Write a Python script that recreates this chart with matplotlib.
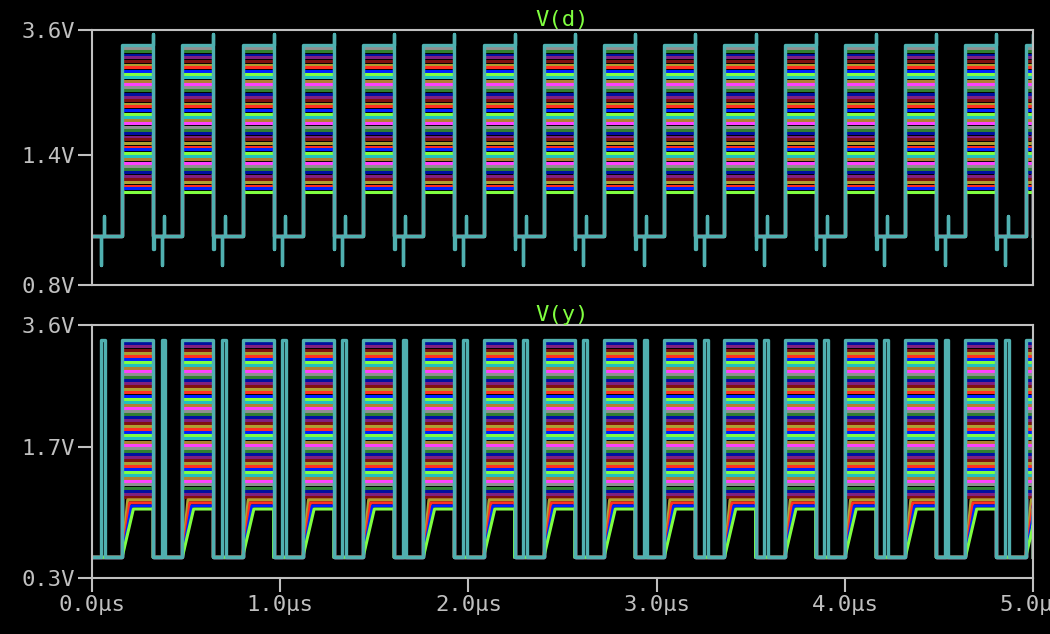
import numpy as np
import matplotlib
matplotlib.use("Agg")
import matplotlib.pyplot as plt

# pulse start times (us) and width
starts = [0.16, 0.48, 0.80, 1.12, 1.44, 1.76, 2.08, 2.40, 2.72, 3.04, 3.36, 3.68, 4.00, 4.32, 4.64, 4.96]
width = 0.165

d_low = 1.34
d_levels = [1.82,1.86,1.89,1.93,1.96,2.00,2.04,2.07,2.11,2.14,2.18,2.22,2.25,2.29,2.32,2.36,2.40,2.43,
            2.47,2.50,2.54,2.58,2.61,2.65,2.68,2.72,2.76,2.79,2.83,2.86,2.90,2.94,2.97,3.01,3.04,3.08,
            3.12,3.15,3.19,3.22,3.26,3.30,3.33,3.37,3.40]
d_env_high = 3.44
d_spike_top = 3.56
d_spike_low = 1.02
d_spike_up = 1.56

y_low = 0.57
y_levels = [1.20,1.24,1.28,1.32,1.36,1.40,1.44,1.48,1.52,1.56,1.60,1.64,1.68,1.72,1.76,1.80,1.84,1.88,
            1.92,1.96,2.00,2.04,2.08,2.12,2.16,2.20,2.24,2.28,2.32,2.36,2.40,2.44,2.48,2.52,2.56,2.60,
            2.64,2.68,2.72,2.76,2.80,2.84,2.88,2.92,2.96,3.00,3.04,3.08,3.12,3.16,3.20,3.24,3.28,3.32,3.36]
y_env_high = 3.40

colors = ["#80ff40", "#0020ff", "#ff3020", "#b0a030", "#801010", "#802080", "#0010a0", "#308030",
          "#909090", "#ff40ff", "#b08030", "#20c0c0"]
cyan = "#50b0b0"
gray = "#c0c0c0"
green = "#80ff40"

def pulse_wave(low, high, ramp=0.0):
    t = [0.0]; v = [low]
    for s in starts:
        e = min(s + width, 5.0)
        t += [s, s + ramp, e, e]
        v += [low, high, high, low]
    t.append(5.0); v.append(low)
    return np.array(t), np.array(v)

fig = plt.figure(figsize=(10.5, 6.34), dpi=100, facecolor="black")
ax1 = fig.add_axes([0.0876, 0.5505, 0.8964, 0.4022])
ax2 = fig.add_axes([0.0876, 0.0883, 0.8964, 0.3991])

for i in range(len(d_levels) - 1, -1, -1):
    t, v = pulse_wave(d_low, d_levels[i])
    ax1.plot(t, v, color=colors[i % len(colors)], lw=2.2)
t = [0.0]; v = [d_low]
for s in starts:
    e = min(s + width, 5.0)
    t += [s - 0.11, s - 0.11, s - 0.11, s - 0.095, s - 0.095, s - 0.095, s, s, e, e, e, e + 0.003, e + 0.003]
    v += [d_low, d_spike_low, d_low, d_low, d_spike_up, d_low, d_low, d_env_high, d_env_high, d_spike_top, 1.2, 1.2, d_low]
t.append(5.0); v.append(d_low)
ax1.plot(t, v, color=cyan, lw=2.4)

for i in range(len(y_levels) - 1, -1, -1):
    ramp = [0.06, 0.05, 0.04, 0.03][i] if i < 4 else 0.0
    t, v = pulse_wave(y_low, y_levels[i], ramp=ramp)
    ax2.plot(t, v, color=colors[i % len(colors)], lw=2.2)
t = [0.0]; v = [y_low]
for s in starts:
    e = min(s + width, 5.0)
    n0 = s - 0.11
    t += [n0, n0, n0 + 0.02, n0 + 0.02, s, s, e, e]
    v += [y_low, y_env_high, y_env_high, y_low, y_low, y_env_high, y_env_high, y_low]
t.append(5.0); v.append(y_low)
ax2.plot(t, v, color=cyan, lw=2.4)

font = dict(family="DejaVu Sans Mono", size=16, color=gray)
for ax, lo, hi, ticks, labels, title in [
        (ax1, 0.8, 3.6, [0.8, 2.23, 3.6], ["0.8V", "1.4V", "3.6V"], "V(d)"),
        (ax2, 0.3, 3.6, [0.3, 2.01, 3.6], ["0.3V", "1.7V", "3.6V"], "V(y)")]:
    ax.set_facecolor("black")
    ax.set_xlim(0, 5.0)
    ax.set_ylim(lo, hi)
    ax.set_yticks(ticks)
    ax.set_yticklabels(labels, fontdict=font)
    ax.set_xticks([0, 1, 2, 3, 4, 5])
    for sp in ax.spines.values():
        sp.set_color(gray); sp.set_linewidth(1.5)
    ax.tick_params(colors=gray, length=10, width=1.5, direction="out", pad=2)
    ax.set_title(title, fontdict=dict(family="DejaVu Sans Mono", size=16, color=green), pad=2)
ax1.set_xticklabels([])
ax1.tick_params(axis="x", length=0)
ax2.set_xticklabels(["0.0µs", "1.0µs", "2.0µs", "3.0µs", "4.0µs", "5.0µs"], fontdict=font)

fig.savefig("out.png", dpi=100, facecolor="black")
